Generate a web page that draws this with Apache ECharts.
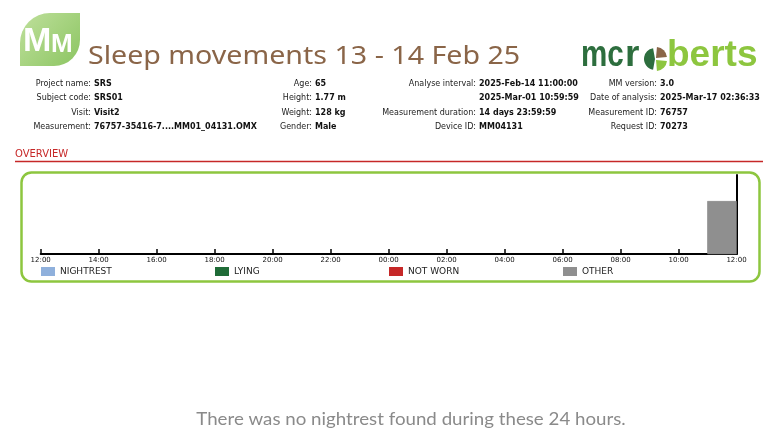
<!DOCTYPE html>
<html><head><meta charset="utf-8">
<script src="https://cdn.jsdelivr.net/npm/echarts@6/dist/echarts.min.js"></script>
<style>html,body{margin:0;padding:0;background:#fff}#c{width:784px;height:441px}</style>
</head><body><div id="c"></div>
<script>
// ---- data ----
var categories = ['NIGHTREST', 'LYING', 'NOT WORN', 'OTHER'];
var categoryColors = ['#8fb0dc', '#1f6b37', '#c62828', '#8f8f8f'];
var tickLabels = ['12:00','14:00','16:00','18:00','20:00','22:00','00:00','02:00','04:00','06:00','08:00','10:00','12:00'];
// segments in hours since 12:00 (start, end, level)
var nightrestSeg = [];
var lyingSeg = [];
var notWornSeg = [];
var otherSeg = [[23, 24, 1]];
var infoLabels1 = ['Project name:', 'Subject code:', 'Visit:', 'Measurement:'];
var infoValues1 = ['SRS', 'SRS01', 'Visit2', '76757-35416-7....MM01_04131.OMX'];
var infoLabels2 = ['Age:', 'Height:', 'Weight:', 'Gender:'];
var infoValues2 = ['65', '1.77 m', '128 kg', 'Male'];
var infoLabels3 = ['Analyse interval:', '', 'Measurement duration:', 'Device ID:'];
var infoValues3 = ['2025-Feb-14 11:00:00', '2025-Mar-01 10:59:59', '14 days 23:59:59', 'MM04131'];
var infoLabels4 = ['MM version:', 'Date of analysis:', 'Measurement ID:', 'Request ID:'];
var infoValues4 = ['3.0', '2025-Mar-17 02:36:33', '76757', '70273'];

var chart = echarts.init(document.getElementById('c'), null, {renderer: 'canvas'});

function renderSeg(params, api) {
  var s = api.coord([api.value(0), 0]);
  var e = api.coord([api.value(1), api.value(2)]);
  return {type: 'rect', shape: {x: s[0], y: e[1], width: e[0] - s[0], height: s[1] - e[1]},
          style: {fill: api.visual('color'), stroke: '#7a7a7a', lineWidth: 0.5}};
}
var segData = [nightrestSeg, lyingSeg, notWornSeg, otherSeg];
var series = categories.map(function (name, i) {
  return {type: 'custom', name: name, renderItem: renderSeg, data: segData[i],
          itemStyle: {color: categoryColors[i]}, encode: {x: [0, 1], y: 2}, z: 1};
});

// info text graphics
var graphics = [];
var rowsY = [84, 98, 113, 127];
var infoFont = '8px "DejaVu Sans"';
var infoBold = 'bold 8px "DejaVu Sans"';
function infoCol(labels, values, xLabelEnd) {
  for (var i = 0; i < labels.length; i++) {
    if (labels[i]) graphics.push({type: 'text', x: xLabelEnd, y: rowsY[i], style: {text: labels[i], fill: '#222', font: infoFont, align: 'right', verticalAlign: 'middle'}});
    graphics.push({type: 'text', x: xLabelEnd + 3, y: rowsY[i], style: {text: values[i], fill: '#111', font: infoBold, align: 'left', verticalAlign: 'middle'}});
  }
}
infoCol(infoLabels1, infoValues1, 91);
infoCol(infoLabels2, infoValues2, 312);
infoCol(infoLabels3, infoValues3, 476);
infoCol(infoLabels4, infoValues4, 657);

// MM logo leaf
graphics.push({type: 'rect', shape: {x: 20, y: 13, width: 60, height: 53, r: [30, 0, 26, 0]},
  style: {fill: {type: 'linear', x: 0, y: 0, x2: 1, y2: 1, colorStops: [{offset: 0, color: '#bfe09c'}, {offset: 1, color: '#8cc562'}]}}, z: 5});
graphics.push({type: 'text', x: 23, y: 59, style: {text: 'M', fill: '#fff', font: 'bold 34px "Liberation Sans"', verticalAlign: 'bottom'}, z: 6});
graphics.push({type: 'text', x: 51, y: 58, style: {text: 'M', fill: '#fff', font: 'bold 26px "Liberation Sans"', verticalAlign: 'bottom'}, z: 6});
// title
graphics.push({type: 'text', x: 88, y: 70, scaleX: 1.1, style: {text: 'Sleep movements 13 - 14 Feb 25', fill: '#8a6548', font: '26px "Noto Sans"', verticalAlign: 'bottom'}});
// mcroberts logo
graphics.push({type: 'text', x: 581, y: 74, scaleX: 0.8, style: {text: 'mc', fill: '#2d6e3e', font: 'bold 37px "Liberation Sans"', verticalAlign: 'bottom'}});
graphics.push({type: 'text', x: 625, y: 74, style: {text: 'r', fill: '#2d6e3e', font: 'bold 37px "Liberation Sans"', verticalAlign: 'bottom'}});
graphics.push({type: 'sector', shape: {cx: 655, cy: 59, r: 11, r0: 0, startAngle: Math.PI * 100 / 180, endAngle: Math.PI * 260 / 180}, style: {fill: '#2d6e3e'}});
graphics.push({type: 'sector', shape: {cx: 656, cy: 58, r: 11, r0: 0, startAngle: Math.PI * 275 / 180, endAngle: Math.PI * 355 / 180}, style: {fill: '#8a6548'}});
graphics.push({type: 'sector', shape: {cx: 656, cy: 60, r: 11, r0: 0, startAngle: Math.PI * 5 / 180, endAngle: Math.PI * 85 / 180}, style: {fill: '#8dc63f'}});
graphics.push({type: 'text', x: 667, y: 74, style: {text: 'berts', fill: '#8dc63f', font: 'bold 37px "Liberation Sans"', verticalAlign: 'bottom'}});
// OVERVIEW section
graphics.push({type: 'text', x: 15, y: 154, style: {text: 'OVERVIEW', fill: '#c62828', font: '10px "DejaVu Sans"', verticalAlign: 'middle'}});
graphics.push({type: 'line', shape: {x1: 15, y1: 161.5, x2: 763, y2: 161.5}, style: {stroke: '#c62828', lineWidth: 1.5}});
// green box
graphics.push({type: 'rect', shape: {x: 21.5, y: 172.5, width: 738, height: 109, r: 10}, style: {fill: 'none', stroke: '#8dc63f', lineWidth: 2.5}});
graphics.push({type: 'line', shape: {x1: 41.5, y1: 268, x2: 41.5, y2: 276}, style: {stroke: '#222', lineWidth: 1}});
// bottom text
graphics.push({type: 'text', x: 411, y: 420, scaleX: 1.1, style: {text: 'There was no nightrest found during these 24 hours.', fill: '#8a8a8a', font: '17px "Lato"', align: 'center', verticalAlign: 'middle'}});

var legendLefts = [41, 215, 389, 563];
var legends = categories.map(function (name, i) {
  return {data: [name], left: legendLefts[i], top: 267, icon: 'rect', itemWidth: 14, itemHeight: 9, itemGap: 0,
          textStyle: {fontSize: 9, color: '#222', fontFamily: 'DejaVu Sans'}, selectedMode: false, padding: 0};
});

chart.setOption({
  animation: false,
  backgroundColor: '#fff',
  grid: {left: 40.7, right: 47.5, top: 175, bottom: 187},
  xAxis: {type: 'value', min: 0, max: 24, interval: 2,
    axisLine: {show: true, lineStyle: {color: '#000', width: 2}},
    axisTick: {show: true, inside: true, length: 5, lineStyle: {color: '#000', width: 1.5}},
    axisLabel: {fontSize: 7, color: '#111', margin: 3, fontFamily: 'DejaVu Sans',
      formatter: function (v) { return tickLabels[Math.round(v / 2)]; }},
    splitLine: {show: false}},
  yAxis: {type: 'value', min: 0, max: 1.5, position: 'right',
    axisLine: {show: true, onZero: false, lineStyle: {color: '#000', width: 2}},
    axisTick: {show: false}, axisLabel: {show: false}, splitLine: {show: false}},
  legend: legends,
  series: series,
  graphic: graphics
});
</script></body></html>
